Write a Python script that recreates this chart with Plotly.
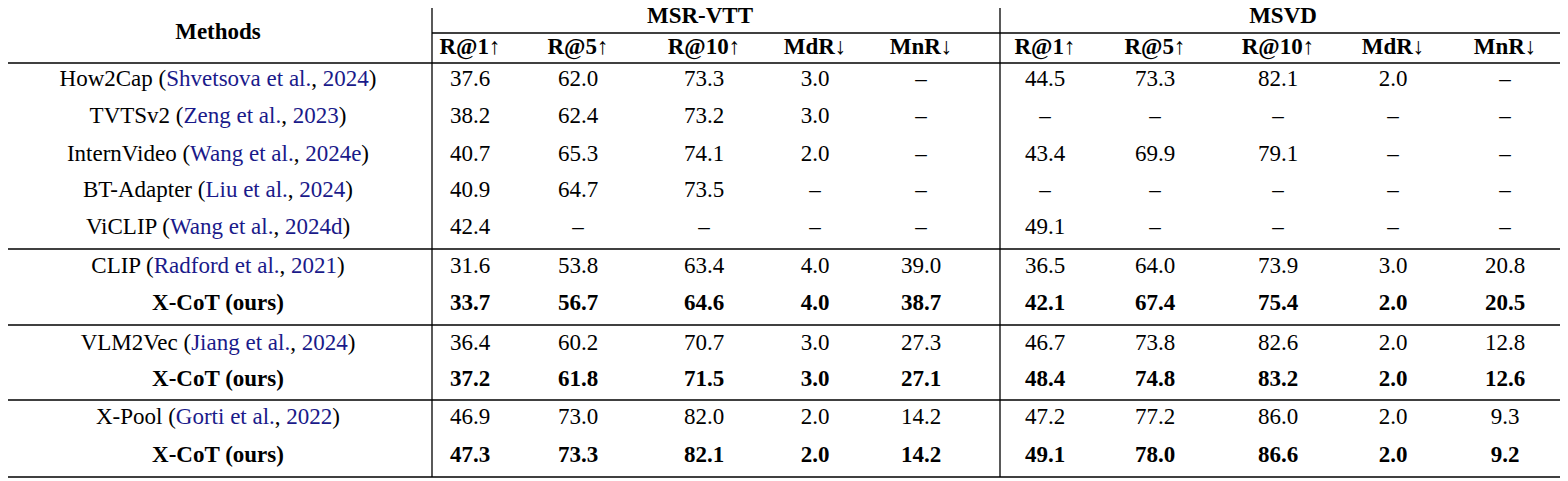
import plotly.graph_objects as go

C = "#1a1a8a"
def cite(name, a, y):
    return f"{name} (<span style='color:{C}'>{a}</span>, <span style='color:{C}'>{y}</span>)"

methods = [cite("How2Cap","Shvetsova et al.","2024"), cite("TVTSv2","Zeng et al.","2023"),
           cite("InternVideo","Wang et al.","2024e"), cite("BT-Adapter","Liu et al.","2024"),
           cite("ViCLIP","Wang et al.","2024d"), cite("CLIP","Radford et al.","2021"), "X-CoT (ours)",
           cite("VLM2Vec","Jiang et al.","2024"), "X-CoT (ours)", cite("X-Pool","Gorti et al.","2022"), "X-CoT (ours)"]
bold_rows = [6, 8, 10]
D = "–"
msrvtt = [
    ["37.6","62.0","73.3","3.0",D],
    ["38.2","62.4","73.2","3.0",D],
    ["40.7","65.3","74.1","2.0",D],
    ["40.9","64.7","73.5",D,D],
    ["42.4",D,D,D,D],
    ["31.6","53.8","63.4","4.0","39.0"],
    ["33.7","56.7","64.6","4.0","38.7"],
    ["36.4","60.2","70.7","3.0","27.3"],
    ["37.2","61.8","71.5","3.0","27.1"],
    ["46.9","73.0","82.0","2.0","14.2"],
    ["47.3","73.3","82.1","2.0","14.2"],
]
msvd = [
    ["44.5","73.3","82.1","2.0",D],
    [D,D,D,D,D],
    ["43.4","69.9","79.1",D,D],
    [D,D,D,D,D],
    ["49.1",D,D,D,D],
    ["36.5","64.0","73.9","3.0","20.8"],
    ["42.1","67.4","75.4","2.0","20.5"],
    ["46.7","73.8","82.6","2.0","12.8"],
    ["48.4","74.8","83.2","2.0","12.6"],
    ["47.2","77.2","86.0","2.0","9.3"],
    ["49.1","78.0","86.6","2.0","9.2"],
]
metrics = ["R@1↑","R@5↑","R@10↑","MdR↓","MnR↓"]
groups = ["MSR-VTT","MSVD"]

col_x = [470, 578, 704, 815, 921, 1045, 1155, 1278, 1393, 1505]
row_y = [80, 117, 155, 191, 228, 267, 304, 344, 380, 418, 456]
FONT = "Liberation Serif"
FS = 23
fig = go.Figure()
def bold(s, i): return f"<b>{s}</b>" if i in bold_rows else s
fig.add_trace(go.Scatter(x=[218]*len(methods), y=row_y, mode="text",
    text=[bold(m, i) for i, m in enumerate(methods)],
    textfont=dict(family=FONT, size=FS, color="black"), hoverinfo="skip"))
for j in range(10):
    src = msrvtt if j < 5 else msvd
    vals = [bold(src[i][j % 5], i) for i in range(len(row_y))]
    fig.add_trace(go.Scatter(x=[col_x[j]]*len(row_y), y=row_y, mode="text", text=vals,
        textfont=dict(family=FONT, size=FS, color="black"), hoverinfo="skip"))
fig.add_trace(go.Scatter(x=col_x, y=[48]*10, mode="text", text=[f"<b>{m}</b>" for m in metrics*2],
    textfont=dict(family=FONT, size=FS, color="black"), hoverinfo="skip"))
fig.add_trace(go.Scatter(x=[700, 1283, 218], y=[17, 17, 33], mode="text",
    text=[f"<b>{g}</b>" for g in groups] + ["<b>Methods</b>"],
    textfont=dict(family=FONT, size=FS, color="black"), hoverinfo="skip"))

shapes = []
def hl(y, x0=3, x1=1565, w=1.3):
    shapes.append(dict(type="line", x0=x0, x1=x1, y0=y, y1=y, line=dict(color="black", width=w)))
for y in [3, 63, 249, 325, 400, 477]:
    hl(y)
hl(33, 432, 1565)
for x in [3, 432, 1000, 1565]:
    shapes.append(dict(type="line", x0=x, x1=x, y0=3, y1=477, line=dict(color="black", width=1.3)))
fig.update_layout(width=1568, height=481, margin=dict(l=0, r=0, t=0, b=0),
    plot_bgcolor="white", paper_bgcolor="white", showlegend=False, shapes=shapes,
    xaxis=dict(range=[8, 1576], visible=False, fixedrange=True),
    yaxis=dict(range=[489, 8], visible=False, fixedrange=True))
fig.write_html("out.html")
